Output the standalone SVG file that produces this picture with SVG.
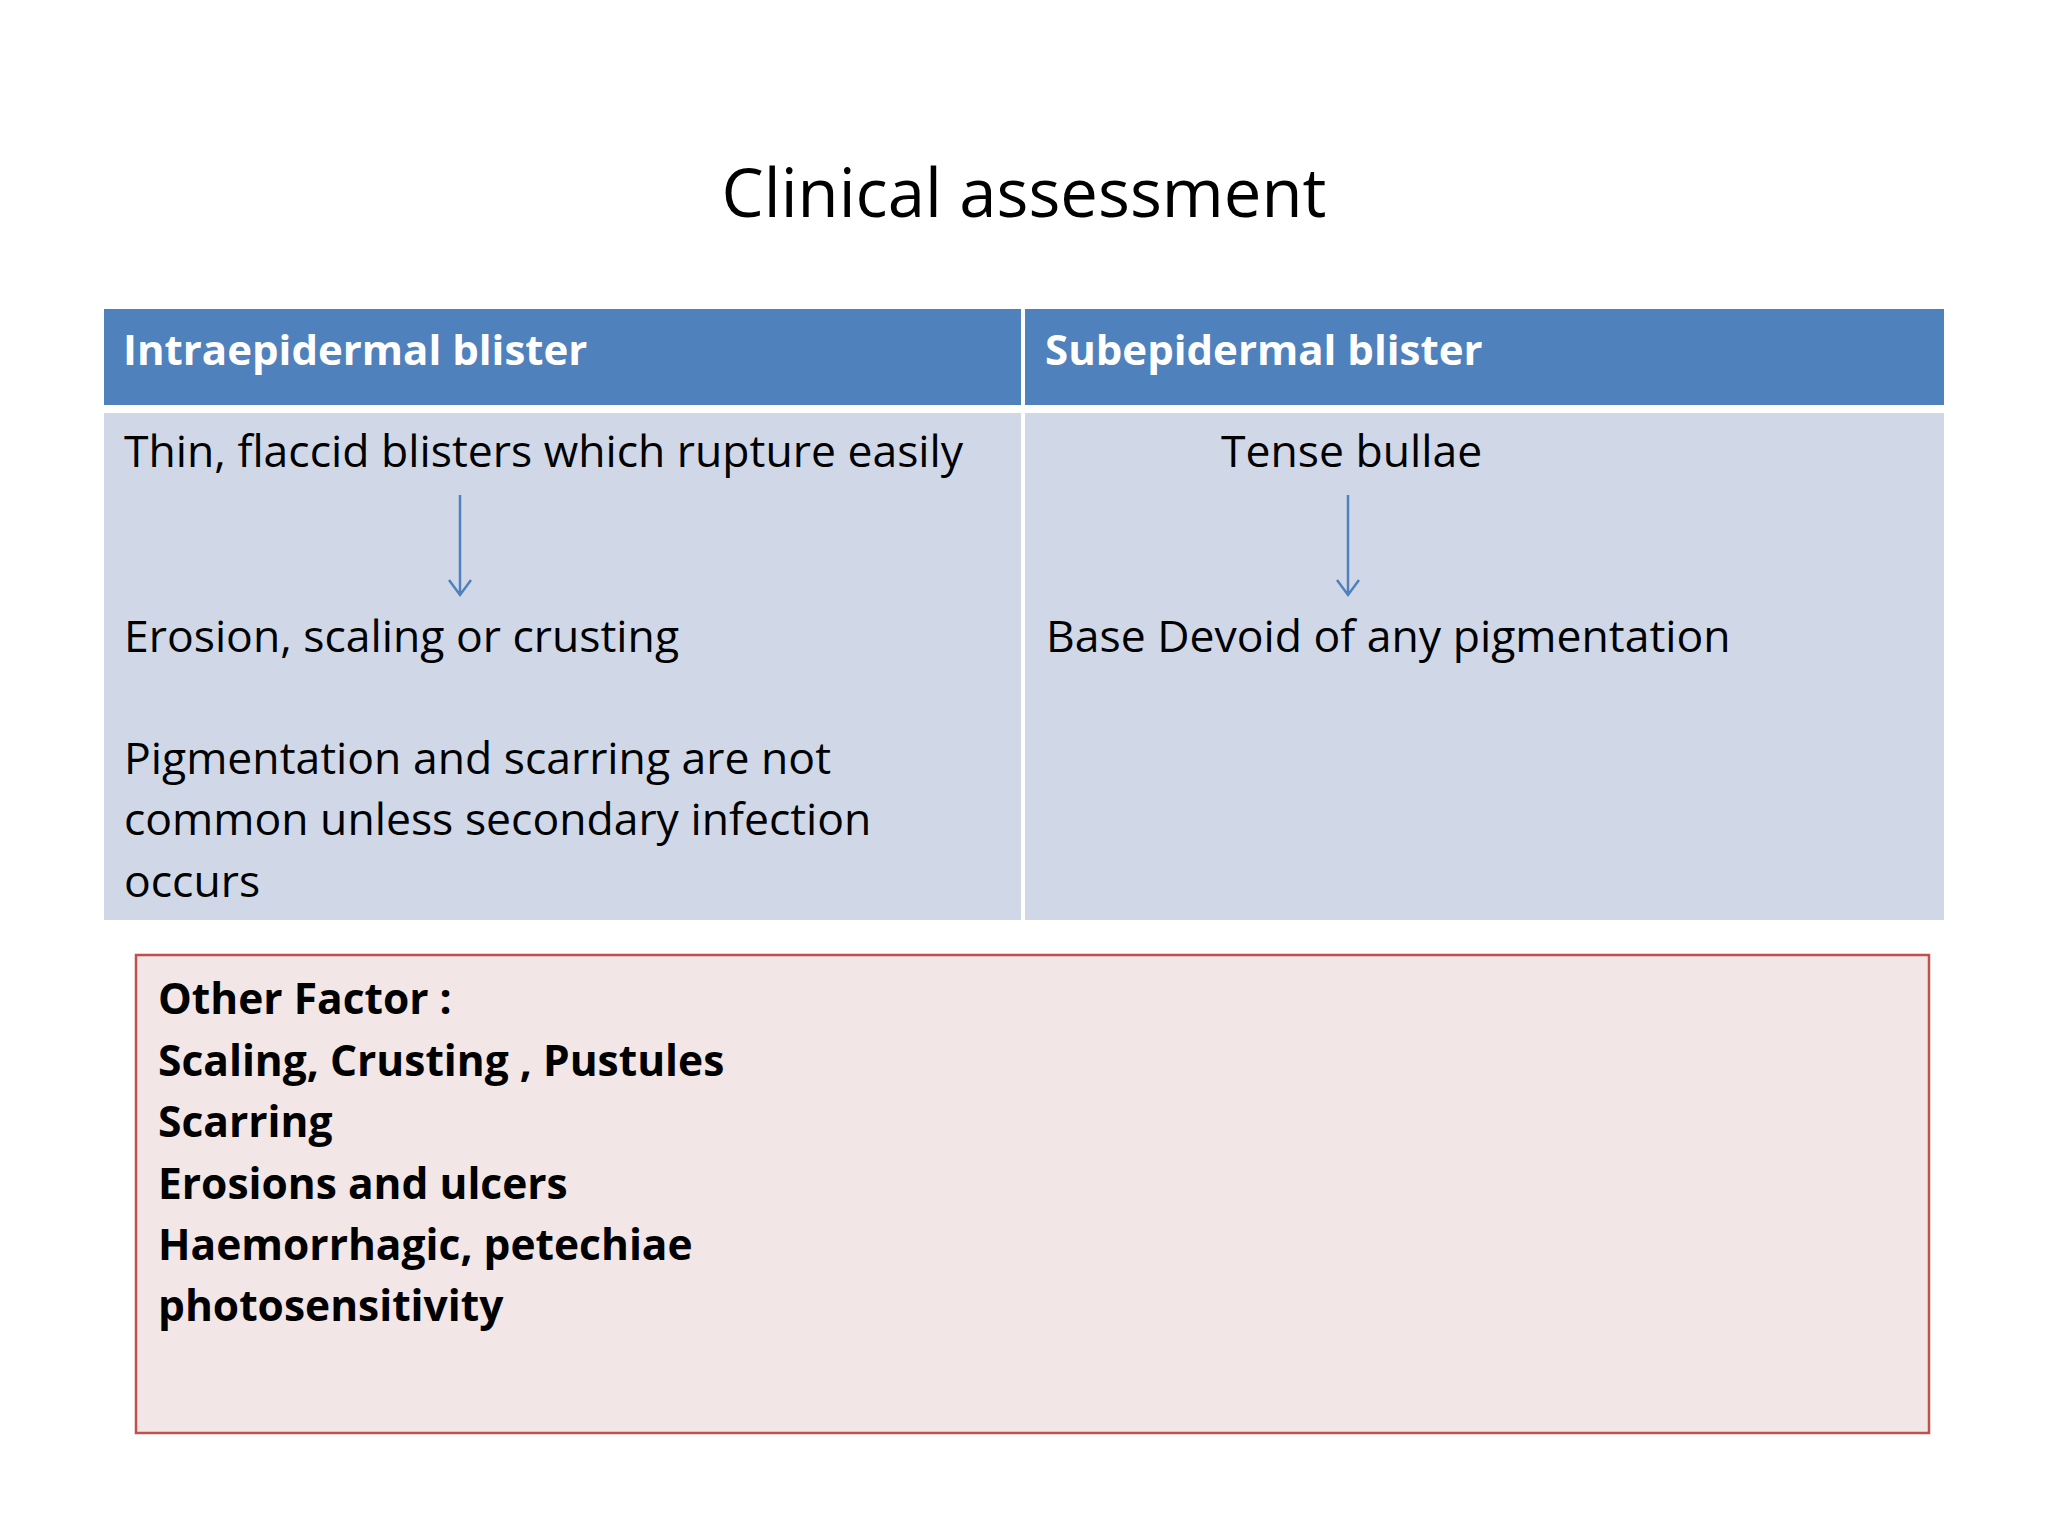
<svg xmlns="http://www.w3.org/2000/svg" width="2048" height="1536" viewBox="0 0 2048 1536">
<style>
text{font-family:"Open Sans","Liberation Sans",sans-serif;fill:#000}
.h{font-weight:bold;fill:#fff;font-size:42px}
.b{font-size:44.5px}
.r{font-size:42.5px;font-weight:bold}
.a{stroke:#4f81bd;stroke-width:2.5;fill:none}
</style>
<rect width="2048" height="1536" fill="#fff"/>
<text x="1024" y="217" text-anchor="middle" font-size="67">Clinical assessment</text>
<g id="table">
<rect x="104" y="309" width="1840" height="96" fill="#4f81bd"/>
<rect x="104" y="413" width="1840" height="507" fill="#d0d8e8"/>
<rect x="1021" y="309" width="4" height="611" fill="#fff"/>
<rect x="104" y="405" width="1840" height="8" fill="#fff"/>
</g>
<g id="header-left"><text class="h" x="123" y="365">Intraepidermal blister</text></g>
<g id="header-right"><text class="h" x="1045" y="365">Subepidermal blister</text></g>
<g id="left-1"><text class="b" x="124" y="467">Thin, flaccid blisters which rupture easily</text></g>
<g id="left-2"><text class="b" x="124" y="652">Erosion, scaling or crusting</text></g>
<g id="left-3"><text class="b" x="124" y="774">Pigmentation and scarring are not</text><text class="b" x="124" y="835">common unless secondary infection</text><text class="b" x="124" y="897">occurs</text></g>
<g id="right-1"><text class="b" x="1221" y="467">Tense bullae</text></g>
<g id="right-2"><text class="b" x="1046" y="652">Base Devoid of any pigmentation</text></g>
<g id="connectors">
<path class="a" d="M460 495V595M449 580L460 595L471 580"/>
<path class="a" d="M1348 495V595M1337 580L1348 595L1359 580"/>
</g>
<g id="other">
<rect x="136" y="955" width="1793" height="478" fill="#f2e6e7" stroke="#c0504d" stroke-width="2.5"/>
<text class="r" x="158" y="1014">Other Factor :</text>
<text class="r" x="158" y="1076">Scaling, Crusting , Pustules</text>
<text class="r" x="158" y="1137">Scarring</text>
<text class="r" x="158" y="1199">Erosions and ulcers</text>
<text class="r" x="158" y="1260">Haemorrhagic, petechiae</text>
<text class="r" x="158" y="1321">photosensitivity</text>
</g>
</svg>
